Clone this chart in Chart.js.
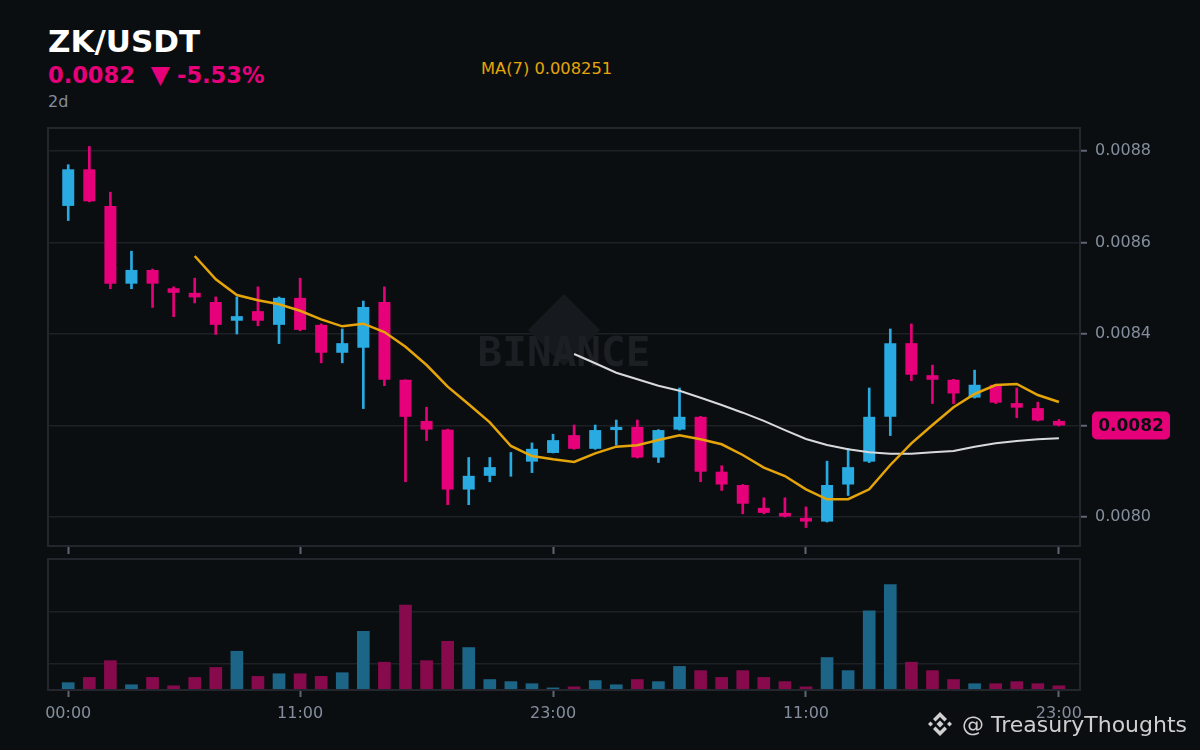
<!DOCTYPE html>
<html>
<head>
<meta charset="utf-8">
<script src="https://cdn.jsdelivr.net/npm/chart.js@4.4.1/dist/chart.umd.min.js"></script>
<style>
  html, body { margin: 0; padding: 0; background: #0b0e11; }
  #wrap { position: relative; width: 1200px; height: 750px; overflow: hidden; background: #0b0e11; font-family: "DejaVu Sans", sans-serif; }
  .txt { position: absolute; white-space: nowrap; }
  canvas { position: absolute; left: 0; }
</style>
</head>
<body>
<div id="wrap">
  <div class="txt" style="left:48px; top:26px; font-size:31px; line-height:31px; font-weight:bold; color:#ffffff;">ZK/USDT</div>
  <div class="txt" id="priceLine" style="left:48px; top:64px; font-size:22.5px; line-height:22.5px; font-weight:bold; color:#e6007a;"></div>
  <div class="txt" style="left:48px; top:94px; font-size:16px; line-height:16px; color:#848e9c;">2d</div>
  <div class="txt" id="maText" style="left:481px; top:61px; font-size:16.3px; line-height:16px; color:#e5a50a;"></div>

  <canvas id="priceChart" width="1200" height="440" style="top:120px; width:1200px; height:440px;"></canvas>
  <canvas id="volChart" width="1200" height="195" style="top:555px; width:1200px; height:195px;"></canvas>

  <svg style="position:absolute; left:927px; top:711px;" width="26" height="26" viewBox="0 0 26 26">
    <g fill="#d0d0d0">
      <polygon points="13,9.5 16.5,13 13,16.5 9.5,13"/>
      <polygon points="1,13 3.5,10.5 6,13 3.5,15.5"/>
      <polygon points="20,13 22.5,10.5 25,13 22.5,15.5"/>
      <polygon points="13,1 20,8 17.5,10.5 13,6 8.5,10.5 6,8"/>
      <polygon points="13,25 20,18 17.5,15.5 13,20 8.5,15.5 6,18"/>
    </g>
  </svg>
  <div class="txt" style="left:962px; top:714px; font-size:22px; line-height:22px; color:#cfcfcf;">@ TreasuryThoughts</div>
</div>

<script>
// 1h candles, 2 days
const opens = [0.00868, 0.00876, 0.00868, 0.00851, 0.00854, 0.0085, 0.00849, 0.00847, 0.008429, 0.00845,
  0.00842, 0.008479, 0.00842, 0.008359, 0.00837, 0.00847, 0.0083, 0.00821, 0.008191, 0.00806,
  0.00809, 0.00811, 0.008121, 0.00814, 0.008179, 0.008149, 0.00819, 0.008197, 0.00813, 0.008191,
  0.008219, 0.008099, 0.00807, 0.00802, 0.008009, 0.007998, 0.00799, 0.008071, 0.008121, 0.008219,
  0.00838, 0.00831, 0.0083, 0.008261, 0.008289, 0.008249, 0.008238, 0.00821];
const highs = [0.00877, 0.00881, 0.00871, 0.008581, 0.008542, 0.008503, 0.008522, 0.008481, 0.008481, 0.008503,
  0.008481, 0.008522, 0.008422, 0.008411, 0.008472, 0.008503, 0.0083, 0.00824, 0.008192, 0.00813,
  0.00813, 0.008141, 0.008162, 0.008181, 0.008201, 0.008201, 0.008212, 0.008212, 0.008191, 0.008282,
  0.00822, 0.008112, 0.008071, 0.008042, 0.008042, 0.008022, 0.008122, 0.00815, 0.008282, 0.008411,
  0.008422, 0.008332, 0.008301, 0.008321, 0.00829, 0.008282, 0.008251, 0.008213];
const lows = [0.008648, 0.008689, 0.008499, 0.008499, 0.008458, 0.008438, 0.008468, 0.008399, 0.0084, 0.008418,
  0.008379, 0.008407, 0.008337, 0.008337, 0.008237, 0.008287, 0.008077, 0.008167, 0.008027, 0.008027,
  0.008077, 0.008089, 0.008097, 0.00814, 0.008148, 0.008148, 0.008157, 0.008129, 0.008119, 0.00819,
  0.008077, 0.008058, 0.008007, 0.008007, 0.008, 0.007977, 0.007989, 0.008047, 0.008119, 0.008178,
  0.008298, 0.008248, 0.008248, 0.00826, 0.008248, 0.008217, 0.00821, 0.008199];
const closes = [0.00876, 0.00869, 0.00851, 0.00854, 0.00851, 0.00849, 0.00848, 0.00842, 0.008439, 0.008429,
  0.008479, 0.008409, 0.008359, 0.00838, 0.008459, 0.0083, 0.008219, 0.008191, 0.00806, 0.00809,
  0.008109, 0.00811, 0.008149, 0.008168, 0.008149, 0.00819, 0.008197, 0.00813, 0.00819, 0.008219,
  0.008099, 0.008071, 0.008029, 0.008009, 0.008001, 0.00799, 0.00807, 0.008109, 0.008219, 0.00838,
  0.008311, 0.0083, 0.00827, 0.008289, 0.00825, 0.008239, 0.008211, 0.0082];

// moving averages
const ma7 = [null, null, null, null, null, null,
  0.0085705, 0.0085196, 0.0084852, 0.0084737, 0.0084649, 0.0084509, 0.0084321, 0.0084168, 0.0084225, 0.0084044,
  0.0083722, 0.0083322, 0.0082848, 0.0082463, 0.008207, 0.0081552, 0.0081333, 0.0081261, 0.0081202, 0.0081392,
  0.0081537, 0.0081567, 0.0081683, 0.0081786, 0.0081698, 0.0081589, 0.0081355, 0.0081078, 0.0080896, 0.0080605,
  0.0080387, 0.008039, 0.0080605, 0.0081137, 0.0081611, 0.0082011, 0.0082398, 0.0082689, 0.0082885, 0.0082907,
  0.0082667, 0.0082514];
const maLong = [null, null, null, null, null, null, null, null, null, null, null, null,
  null, null, null, null, null, null, null, null, null, null, null, null,
  0.0083563, 0.008336, 0.0083154, 0.008301, 0.008287, 0.0082761, 0.0082608, 0.0082448, 0.008228, 0.00821,
  0.00819, 0.0081705, 0.0081574, 0.008148, 0.0081414, 0.0081384, 0.0081384, 0.0081414, 0.0081443, 0.0081537,
  0.0081611, 0.0081661, 0.0081698, 0.008172];

// volume in arbitrary units (gridlines at 1 and 3)
const volumes = [0.28, 0.48, 1.12, 0.20, 0.48, 0.16, 0.48, 0.86, 1.48, 0.52,
  0.62, 0.62, 0.52, 0.66, 2.24, 1.06, 3.24, 1.12, 1.86, 1.62,
  0.40, 0.32, 0.24, 0.08, 0.12, 0.36, 0.20, 0.40, 0.32, 0.90,
  0.74, 0.48, 0.74, 0.48, 0.32, 0.12, 1.24, 0.74, 3.02, 4.02,
  1.06, 0.74, 0.40, 0.24, 0.24, 0.32, 0.24, 0.16];

const xTickIdx = [0, 11, 23, 35, 47];
const xTickLabels = ['00:00', '11:00', '23:00', '11:00', '23:00'];
const priceTicks = [0.0080, 0.0082, 0.0084, 0.0086, 0.0088];
const volTicks = [1, 3];
const changeText = '-5.53%';

const UP = '#29abe2', DOWN = '#e6007a';
const UP_VOL = '#1c6587', DOWN_VOL = '#870a4d';
const GRID = '#1d2126', FRAME = '#23272d', TICK = '#5e6673', LABEL = '#848e9c';

const lastClose = closes[closes.length - 1];
document.getElementById('priceLine').innerHTML = lastClose.toFixed(4) +
  '<span style="font-size:25px; line-height:0; margin-left:16px;">▼</span><span style="margin-left:7px;">' + changeText + '</span>';
document.getElementById('maText').textContent = 'MA(7) ' + ma7[ma7.length - 1].toFixed(6);

const isUp = closes.map((c, i) => c >= opens[i]);
const candleColors = isUp.map(u => u ? UP : DOWN);
const volColors = isUp.map(u => u ? UP_VOL : DOWN_VOL);

const framePlugin = {
    id: 'frame',
    afterDraw(chart) {
        const a = chart.chartArea, ctx = chart.ctx;
        ctx.save();
        ctx.strokeStyle = FRAME;
        ctx.lineWidth = 2;
        ctx.strokeRect(a.left, a.top, a.right - a.left, a.bottom - a.top);
        ctx.restore();
    }
};

const watermarkPlugin = {
    id: 'watermark',
    beforeDatasetsDraw(chart) {
        const a = chart.chartArea, ctx = chart.ctx;
        const cx = (a.left + a.right) / 2, cy = (a.top + a.bottom) / 2;
        ctx.save();
        ctx.fillStyle = '#16191d';
        ctx.beginPath();
        ctx.moveTo(cx, cy - 43); ctx.lineTo(cx + 36, cy - 7);
        ctx.lineTo(cx, cy + 29); ctx.lineTo(cx - 36, cy - 7);
        ctx.closePath();
        ctx.fill();
        ctx.fillStyle = '#1c1f24';
        ctx.font = 'bold 41px "DejaVu Sans Mono"';
        ctx.textAlign = 'center';
        ctx.textBaseline = 'alphabetic';
        ctx.fillText('BINANCE', cx, cy + 29);
        ctx.restore();
    }
};

const badgePlugin = {
    id: 'badge',
    afterDraw(chart) {
        const ctx = chart.ctx, y = chart.scales.y.getPixelForValue(lastClose);
        const x = chart.chartArea.right + 12;
        ctx.save();
        ctx.fillStyle = DOWN;
        ctx.beginPath();
        ctx.roundRect(x, y - 14, 78, 28, 5);
        ctx.fill();
        ctx.fillStyle = '#0b0e11';
        ctx.font = 'bold 17px "DejaVu Sans"';
        ctx.textAlign = 'center';
        ctx.textBaseline = 'middle';
        ctx.fillText(lastClose.toFixed(4), x + 39, y + 1);
        ctx.restore();
    }
};

function xScale(showLabels, height) {
    return {
        type: 'linear', min: -0.96, max: 48, offset: false,
        afterBuildTicks: s => { s.ticks = xTickIdx.map(v => ({ value: v })); },
        afterFit: s => { s.height = height; s.paddingLeft = 0; s.paddingRight = 0; },
        ticks: {
            display: showLabels, autoSkip: false, maxRotation: 0, padding: 7,
            color: LABEL, font: { family: 'DejaVu Sans', size: 16 },
            callback: (v, i) => xTickLabels[i]
        },
        grid: { offset: false, drawOnChartArea: false, drawTicks: true, tickLength: showLabels ? 7 : 8, tickColor: TICK, tickWidth: 2 },
        border: { display: false }
    };
}

function yFit(s) {
    s.width = 120;
    s.paddingTop = 0;
    s.paddingBottom = 0;
}

const common = {
    responsive: false,
    animation: false,
    devicePixelRatio: 1,
    plugins: { legend: { display: false }, tooltip: { enabled: false } }
};

new Chart(document.getElementById('priceChart'), {
    type: 'bar',
    data: {
        datasets: [
            { type: 'line', data: ma7.map((v, i) => ({ x: i, y: v })), borderColor: '#e5a50a', borderWidth: 2.5, pointRadius: 0, order: 0 },
            { type: 'line', data: maLong.map((v, i) => ({ x: i, y: v })), borderColor: '#d8d9db', borderWidth: 2, pointRadius: 0, order: 0 },
            { data: opens.map((o, i) => ({ x: i, y: [o, closes[i]] })), backgroundColor: candleColors, barThickness: 12, inflateAmount: 0, grouped: false, order: 1 },
            { data: lows.map((l, i) => ({ x: i, y: [l, highs[i]] })), backgroundColor: candleColors, barThickness: 2, grouped: false, order: 2 }
        ]
    },
    options: {
        ...common,
        layout: { padding: { left: 48, top: 8, right: 0, bottom: 0 } },
        scales: {
            x: xScale(false, 14),
            y: {
                type: 'linear', position: 'right', min: 0.0079366, max: 0.0088503,
                afterBuildTicks: s => { s.ticks = priceTicks.map(v => ({ value: v })); },
                afterFit: yFit,
                ticks: { color: LABEL, font: { family: 'DejaVu Sans', size: 16 }, padding: 8, callback: v => Number(v).toFixed(4) },
                grid: { color: GRID, lineWidth: 1.5, tickColor: TICK, tickLength: 7, tickWidth: 2 },
                border: { display: false }
            }
        }
    },
    plugins: [watermarkPlugin, framePlugin, badgePlugin]
});

new Chart(document.getElementById('volChart'), {
    type: 'bar',
    data: {
        datasets: [
            { data: volumes.map((v, i) => ({ x: i, y: v })), backgroundColor: volColors, barThickness: 12 }
        ]
    },
    options: {
        ...common,
        layout: { padding: { left: 48, top: 4, right: 0, bottom: 0 } },
        scales: {
            x: xScale(true, 60),
            y: {
                type: 'linear', position: 'right', min: 0, max: 5,
                afterBuildTicks: s => { s.ticks = volTicks.map(v => ({ value: v })); },
                afterFit: yFit,
                ticks: { display: false },
                grid: { color: GRID, lineWidth: 1.5, drawTicks: false },
                border: { display: false }
            }
        }
    },
    plugins: [framePlugin]
});
</script>
</body>
</html>
